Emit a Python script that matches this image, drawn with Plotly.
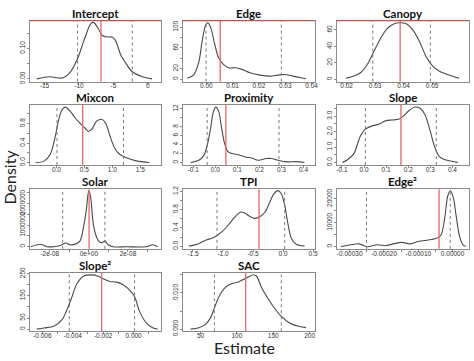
import plotly.graph_objects as go

# ---------------- data ----------------
intercept_x = [-16.1, -14.3, -12.4, -11.4, -10.3, -9.2, -8.3, -7.9, -7.3, -6.6, -5.9, -5.2, -4.7, -3.9, -3.0, -2.3, -0.8, 0.6]
intercept_y = [0.0, 0.007, 0.003, 0.018, 0.061, 0.13, 0.18, 0.185, 0.169, 0.142, 0.137, 0.137, 0.126, 0.077, 0.045, 0.024, 0.007, 0.0]
intercept_lines = [-10.2, -6.8, -2.25]
intercept_xticks = [-15, -10, -5, 0]
intercept_xtext = ["-15", "-10", "-5", "0"]
intercept_yticks = [0, 0.05, 0.10, 0.15]
intercept_ytext = ["0.00", "", "0.10", ""]

edge_x = [-0.0072, -0.0047, -0.0028, -0.0016, -0.0003, 0.0006, 0.0018, 0.0031, 0.0047, 0.0066, 0.0085, 0.011, 0.0135, 0.0166, 0.0204, 0.0241, 0.0273, 0.0298, 0.0329, 0.036, 0.0379]
edge_y = [2, 9, 34, 72, 103, 108, 97, 69, 41, 28, 22, 22, 19, 12.5, 8, 6, 8, 9, 6, 3, 1]
edge_lines = [-0.0001, 0.0053, 0.0285]
edge_xticks = [0, 0.01, 0.02, 0.03, 0.04]
edge_xtext = ["0.00", "0.01", "0.02", "0.03", "0.04"]
edge_yticks = [0, 20, 40, 60, 80, 100]
edge_ytext = ["0", "20", "", "60", "", "100"]

canopy_x = [0.0197, 0.0226, 0.0249, 0.0272, 0.0295, 0.0318, 0.0341, 0.0365, 0.0388, 0.0411, 0.0434, 0.0457, 0.048, 0.0503, 0.0526, 0.0561, 0.0596]
canopy_y = [1.2, 4, 8, 17.6, 33, 49, 61, 67, 68.6, 67, 59, 45, 27, 15.6, 9.8, 5, 1.2]
canopy_lines = [0.0292, 0.0388, 0.0494]
canopy_xticks = [0.02, 0.03, 0.04, 0.05]
canopy_xtext = ["0.02", "0.03", "0.04", "0.05"]
canopy_yticks = [0, 20, 40, 60]
canopy_ytext = ["0", "20", "40", "60"]

mixcon_x = [-0.37, -0.22, -0.11, -0.02, 0.04, 0.10, 0.16, 0.25, 0.34, 0.42, 0.51, 0.57, 0.63, 0.72, 0.81, 0.88, 0.96, 1.04, 1.13, 1.25, 1.43, 1.66]
mixcon_y = [0.0, 0.03, 0.17, 0.54, 0.88, 1.08, 1.14, 1.05, 0.91, 0.81, 0.71, 0.64, 0.68, 0.85, 0.89, 0.81, 0.54, 0.30, 0.17, 0.10, 0.035, 0.0]
mixcon_lines = [0.01, 0.47, 1.20]
mixcon_xticks = [0, 0.5, 1.0, 1.5]
mixcon_xtext = ["0.0", "0.5", "1.0", "1.5"]
mixcon_yticks = [0, 0.2, 0.4, 0.6, 0.8, 1.0]
mixcon_ytext = ["0.0", "", "0.4", "", "0.8", ""]

prox_x = [-0.112, -0.075, -0.052, -0.037, -0.022, -0.010, 0.002, 0.015, 0.027, 0.041, 0.056, 0.075, 0.105, 0.135, 0.165, 0.195, 0.232, 0.255, 0.285, 0.322, 0.367, 0.404]
prox_y = [0, 0.5, 1.6, 3.8, 7.5, 11.1, 12.4, 11.5, 8.2, 4.5, 2.5, 2.0, 1.75, 1.25, 1.0, 0.5, 0.9, 0.9, 0.5, 0.15, 0.2, 0]
prox_lines = [-0.037, 0.048, 0.289]
prox_xticks = [-0.1, 0, 0.1, 0.2, 0.3, 0.4]
prox_xtext = ["-0.1", "0.0", "0.1", "0.2", "0.3", "0.4"]
prox_yticks = [0, 2, 4, 6, 8, 10, 12]
prox_ytext = ["0", "2", "4", "6", "8", "", "12"]

slope_x = [-0.098, -0.076, -0.046, -0.016, 0.006, 0.036, 0.066, 0.096, 0.126, 0.156, 0.178, 0.2, 0.23, 0.252, 0.275, 0.297, 0.32, 0.342, 0.372, 0.424]
slope_y = [0.02, 0.17, 0.58, 1.74, 2.16, 2.37, 2.47, 2.69, 2.75, 2.79, 3.0, 3.31, 3.58, 3.52, 3.1, 2.16, 1.0, 0.38, 0.17, 0.02]
slope_lines = [0.006, 0.167, 0.327]
slope_xticks = [-0.1, 0, 0.1, 0.2, 0.3, 0.4]
slope_xtext = ["-0.1", "0.0", "0.1", "0.2", "0.3", "0.4"]
slope_yticks = [0, 0.5, 1, 1.5, 2, 2.5, 3, 3.5]
slope_ytext = ["0.0", "", "1.0", "", "2.0", "", "3.0", ""]

solar_x = [-29.8e-9, -26.4e-9, -23.8e-9, -21.3e-9, -18e-9, -14.6e-9, -11.7e-9, -9.5e-9, -7e-9, -4.5e-9, -2.8e-9, -1.4e-9, -0.4e-9, 0.1e-9, 1.0e-9, 2.3e-9, 4.0e-9, 5.7e-9, 7.0e-9, 8.2e-9, 9.9e-9, 12.4e-9, 19.2e-9, 29.3e-9, 32.7e-9, 35.2e-9]
solar_y = [0, 90000, 90000, 0, 0, 60000, 170000, 90000, 120000, 270000, 880000, 1630000, 2450000, 2600000, 2230000, 1030000, 430000, 200000, 200000, 270000, 90000, 0, 0, 0, 90000, 0]
solar_lines = [-13.4e-9, 0.1e-9, 8.2e-9]
solar_xticks = [-2e-8, -1e-8, 0, 1e-8, 2e-8, 3e-8]
solar_xtext = ["-2e-08", "", "0e+00", "", "2e-08", ""]
solar_yticks = [0, 500000, 1000000, 1500000, 2000000, 2500000]
solar_ytext = ["0", "", "1000000", "", "2000000", ""]

tpi_x = [-1.566, -1.43, -1.29, -1.154, -1.017, -0.907, -0.797, -0.70, -0.63, -0.55, -0.47, -0.38, -0.30, -0.22, -0.154, -0.083, -0.029, 0.027, 0.08, 0.136, 0.218, 0.357]
tpi_y = [0, 0.04, 0.13, 0.19, 0.32, 0.47, 0.65, 0.75, 0.72, 0.65, 0.61, 0.65, 0.75, 0.97, 1.15, 1.22, 1.15, 0.9, 0.5, 0.18, 0.04, 0]
tpi_lines = [-1.10, -0.40, 0.027]
tpi_xticks = [-1.5, -1.0, -0.5, 0, 0.5]
tpi_xtext = ["-1.5", "-1.0", "-0.5", "0.0", "0.5"]
tpi_yticks = [0, 0.2, 0.4, 0.6, 0.8, 1.0, 1.2]
tpi_ytext = ["0.0", "", "0.4", "", "0.8", "", "1.2"]

edge2_x = [-32.6e-5, -29.7e-5, -27.3e-5, -24.9e-5, -22e-5, -19.6e-5, -17.2e-5, -14.8e-5, -12.4e-5, -10.0e-5, -8.1e-5, -6.2e-5, -4.2e-5, -3.3e-5, -2.3e-5, -1.4e-5, -0.6e-5, 0.3e-5, 1.0e-5, 2.0e-5, 3.0e-5, 3.9e-5]
edge2_y = [0, 800, 1200, 0, 800, 400, 1200, 1800, 1200, 2200, 2600, 3000, 3800, 5100, 11900, 21300, 23400, 20000, 13200, 4500, 800, 200]
edge2_lines = [-25.1e-5, -3.95e-5, -0.7e-5]
edge2_xticks = [-0.0003, -0.00025, -0.0002, -0.00015, -0.0001, -0.00005, 0]
edge2_xtext = ["-0.00030", "", "-0.00020", "", "-0.00010", "", "0.00000"]
edge2_yticks = [0, 5000, 10000, 15000, 20000]
edge2_ytext = ["0", "", "10000", "", "20000"]

slope2_x = [-6.37e-3, -5.9e-3, -5.25e-3, -4.7e-3, -4.38e-3, -4.05e-3, -3.73e-3, -3.3e-3, -2.75e-3, -2.32e-3, -2.0e-3, -1.56e-3, -1.12e-3, -0.7e-3, -0.26e-3, 0.065e-3, 0.39e-3, 0.83e-3, 1.25e-3, 1.58e-3]
slope2_y = [0, 5, 13, 43, 87, 146, 205, 239, 245, 239, 227, 215, 212, 200, 176, 146, 80, 28, 6, 0]
slope2_lines = [-4.23e-3, -2.1e-3, 0.065e-3]
slope2_xticks = [-0.006, -0.005, -0.004, -0.003, -0.002, -0.001, 0, 0.001]
slope2_xtext = ["-0.006", "", "-0.004", "", "-0.002", "", "0.000", ""]
slope2_yticks = [0, 50, 100, 150, 200, 250]
slope2_ytext = ["0", "50", "", "150", "", "250"]

sac_x = [36.4, 47.7, 56.8, 63.6, 68.1, 74.9, 84, 93, 102.1, 108.9, 115.7, 122.5, 127, 133.8, 142.9, 152, 161.1, 172.4, 186, 195]
sac_y = [0, 0.0004, 0.0013, 0.0031, 0.0053, 0.0088, 0.0115, 0.0126, 0.013, 0.0137, 0.0144, 0.015, 0.0146, 0.0115, 0.0084, 0.0057, 0.0035, 0.0017, 0.0007, 0.0004]
sac_lines = [69, 112, 161]
sac_xticks = [50, 100, 150, 200]
sac_xtext = ["50", "100", "150", "200"]
sac_yticks = [0, 0.005, 0.010, 0.015]
sac_ytext = ["0.000", "", "0.010", ""]

# ---------------- layout ----------------
W, H = 474, 361
COL_PX = [(29, 162), (184, 317), (339.5, 472.5)]
ROW_PX = [(15, 78), (102, 164), (189, 250.5), (275, 335.5)]

panels = [
    ("Intercept", intercept_x, intercept_y, intercept_lines, 0, 0, [-17.15, 1.96], [-0.009, 0.191], intercept_xticks, intercept_xtext, intercept_yticks, intercept_ytext),
    ("Edge", edge_x, edge_y, edge_lines, 0, 1, [-0.00883, 0.04117], [-4.5, 112.5], edge_xticks, edge_xtext, edge_yticks, edge_ytext),
    ("Canopy", canopy_x, canopy_y, canopy_lines, 0, 2, [0.0166, 0.0628], [-2.8, 71.3], canopy_xticks, canopy_xtext, canopy_yticks, canopy_ytext),
    ("Mixcon", mixcon_x, mixcon_y, mixcon_lines, 1, 0, [-0.478, 1.876], [-0.05, 1.185], mixcon_xticks, mixcon_xtext, mixcon_yticks, mixcon_ytext),
    ("Proximity", prox_x, prox_y, prox_lines, 1, 1, [-0.1463, 0.4506], [-0.55, 12.9], prox_xticks, prox_xtext, prox_yticks, prox_ytext),
    ("Slope", slope_x, slope_y, slope_lines, 1, 2, [-0.1227, 0.4727], [-0.15, 3.72], slope_xticks, slope_xtext, slope_yticks, slope_ytext),
    ("Solar", solar_x, solar_y, solar_lines, 2, 0, [-30.28e-9, 37.06e-9], [-100000, 2660000], solar_xticks, solar_xtext, solar_yticks, solar_ytext),
    ("TPI", tpi_x, tpi_y, tpi_lines, 2, 1, [-1.665, 0.526], [-0.06, 1.25], tpi_xticks, tpi_xtext, tpi_yticks, tpi_ytext),
    ("Edge²", edge2_x, edge2_y, edge2_lines, 2, 2, [-33.72e-5, 4.64e-5], [-900, 24000], edge2_xticks, edge2_xtext, edge2_yticks, edge2_ytext),
    ("Slope²", slope2_x, slope2_y, slope2_lines, 3, 0, [-6.83e-3, 1.82e-3], [-9.8, 255], slope2_xticks, slope2_xtext, slope2_yticks, slope2_ytext),
    ("SAC", sac_x, sac_y, sac_lines, 3, 1, [25.9, 206.9], [-0.0006, 0.0156], sac_xticks, sac_xtext, sac_yticks, sac_ytext),
]

BOX = "#8a8a8a"
TICKFONT = dict(family="Liberation Sans, Arial, sans-serif", size=6.5, color="#333333")

fig = go.Figure()
layout = dict(
    width=W, height=H,
    margin=dict(l=0, r=0, t=0, b=0),
    paper_bgcolor="white", plot_bgcolor="white",
    showlegend=False,
)
shapes = []
annotations = []

for i, (name, xs, ys, vl, r, c, xr, yr, xt, xtt, yt, ytt) in enumerate(panels):
    n = "" if i == 0 else str(i + 1)
    xl, xrr = COL_PX[c]
    yt_px, yb_px = ROW_PX[r]
    xdom = [xl / W, xrr / W]
    ydom = [1 - yb_px / H, 1 - yt_px / H]
    layout["xaxis" + n] = dict(
        domain=xdom, range=xr, anchor="y" + n, showgrid=False, zeroline=False,
        showline=True, mirror=True, linecolor=BOX, linewidth=1,
        ticks="outside", ticklen=2, tickwidth=1, tickcolor=BOX,
        tickmode="array", tickvals=xt, ticktext=xtt, tickangle=0,
        tickfont=TICKFONT, ticklabelstandoff=-4,
    )
    layout["yaxis" + n] = dict(
        domain=ydom, range=yr, anchor="x" + n, showgrid=False, zeroline=False,
        showline=True, mirror=True, linecolor=BOX, linewidth=1,
        ticks="outside", ticklen=2, tickwidth=1, tickcolor=BOX,
        tickmode="array", tickvals=yt, ticktext=ytt, tickangle=-90,
        tickfont=TICKFONT, ticklabelstandoff=-1,
    )
    fig.add_trace(go.Scatter(
        x=xs, y=ys, mode="lines", xaxis="x" + n, yaxis="y" + n,
        line=dict(color="#4a4a4a", width=1.1, shape="spline", smoothing=0.9),
        hoverinfo="skip",
    ))
    xref = "x" + n
    yref = "y" + n + " domain"
    for k, v in enumerate(vl):
        if k == 1:
            ln = dict(color="#e8676a", width=1.3)
        else:
            ln = dict(color="#7a7a7a", width=1, dash="dot")
        shapes.append(dict(type="line", xref=xref, yref=yref, x0=v, x1=v, y0=0, y1=1, line=ln, layer="above"))
    if r == 0:
        shapes.append(dict(type="line", xref=xref + " domain", yref=yref, x0=0, x1=1, y0=1, y1=1,
                           line=dict(color="#b0574e", width=1.2), layer="above"))
    annotations.append(dict(
        text="<b>" + name + "</b>", xref="paper", yref="paper",
        x=(xdom[0] + xdom[1]) / 2, y=ydom[1], xanchor="center", yanchor="bottom",
        showarrow=False, borderpad=0,
        font=dict(family="Lato, sans-serif", size=11.5, color="#111111"),
    ))

annotations.append(dict(text="Density", xref="paper", yref="paper", x=9 / W, y=1 - 176 / H,
                        xanchor="center", yanchor="middle", textangle=-90, showarrow=False,
                        font=dict(family="Lato, sans-serif", size=16, color="#222222")))
annotations.append(dict(text="Estimate", xref="paper", yref="paper", x=246 / W, y=1 - 352 / H,
                        xanchor="center", yanchor="middle", showarrow=False,
                        font=dict(family="Lato, sans-serif", size=16, color="#222222")))

layout["shapes"] = shapes
layout["annotations"] = annotations
fig.update_layout(**layout)
fig.write_html("out.html", config={"displayModeBar": False},
               post_script="document.body.style.margin='0px';document.body.style.overflow='hidden';")
